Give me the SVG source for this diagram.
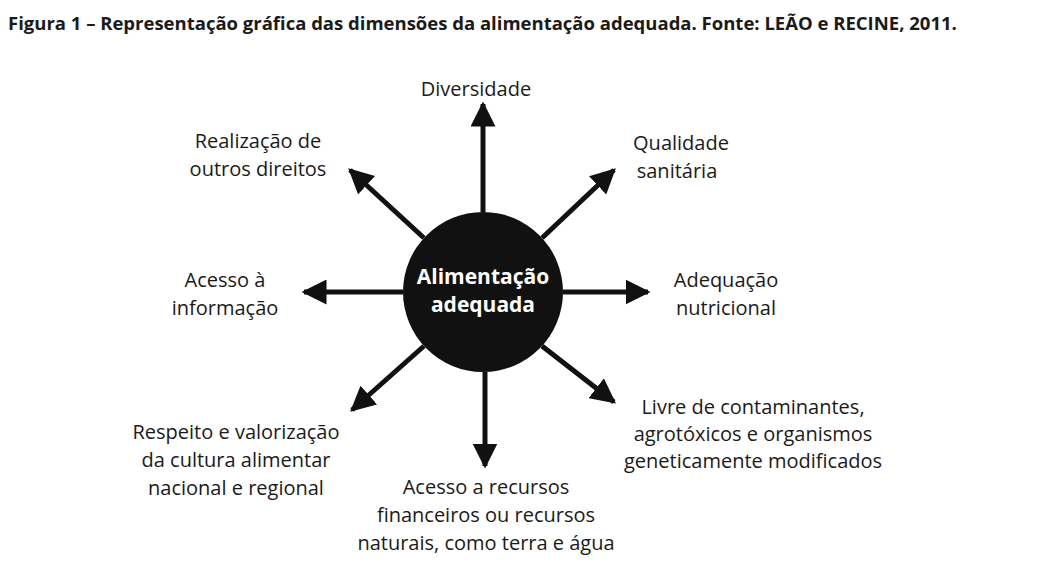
<svg xmlns="http://www.w3.org/2000/svg" width="1041" height="563" viewBox="0 0 1041 563">
<defs>
<marker id="ah" viewBox="0 0 10 10" refX="9" refY="5" markerWidth="5" markerHeight="5" orient="auto" markerUnits="strokeWidth">
<path d="M0,0 L10,5 L0,10 Z" fill="#111"/>
</marker>
<style>
.t{font-family:"Open Sans","Liberation Sans",sans-serif;font-size:20px;fill:#1a1a1a;text-anchor:middle}
.c line{stroke:#111;stroke-width:5;marker-end:url(#ah)}
</style>
</defs>
<rect width="1041" height="563" fill="#fff"/>
<text x="8" y="30" style="font-family:'Open Sans','Liberation Sans',sans-serif;font-size:18.5px;font-weight:bold;fill:#1a1a1a">Figura 1 – Representação gráfica das dimensões da alimentação adequada. Fonte: LEÃO e RECINE, 2011.</text>
<g class="c" id="connectors">
<line x1="483" y1="212" x2="483" y2="104"/>
<line x1="563" y1="292" x2="648" y2="292"/>
<line x1="403" y1="292" x2="304" y2="292"/>
<line x1="485" y1="372" x2="485" y2="466"/>
<line x1="542" y1="238" x2="614" y2="170"/>
<line x1="424" y1="238" x2="350" y2="170"/>
<line x1="542" y1="346" x2="614" y2="402"/>
<line x1="424" y1="346" x2="352" y2="410"/>
</g>
<g id="center">
<circle cx="483" cy="292" r="80" fill="#111"/>
<text class="t" x="483" y="284" style="fill:#fff;font-weight:bold;font-size:21px">Alimentação</text>
<text class="t" x="483" y="312" style="fill:#fff;font-weight:bold;font-size:21px">adequada</text>
</g>
<g id="n1"><text class="t" x="476" y="96">Diversidade</text></g>
<g id="n2"><text class="t" x="681" y="150">Qualidade</text><text class="t" x="677" y="178">sanitária</text></g>
<g id="n3"><text class="t" x="726" y="287">Adequação</text><text class="t" x="726" y="315">nutricional</text></g>
<g id="n4"><text class="t" x="753" y="414">Livre de contaminantes,</text><text class="t" x="753" y="441">agrotóxicos e organismos</text><text class="t" x="753" y="468">geneticamente modificados</text></g>
<g id="n5"><text class="t" x="486" y="494">Acesso a recursos</text><text class="t" x="486" y="522">financeiros ou recursos</text><text class="t" x="486" y="550">naturais, como terra e água</text></g>
<g id="n6"><text class="t" x="236" y="439">Respeito e valorização</text><text class="t" x="236" y="467">da cultura alimentar</text><text class="t" x="236" y="495">nacional e regional</text></g>
<g id="n7"><text class="t" x="225" y="287">Acesso à</text><text class="t" x="225" y="315">informação</text></g>
<g id="n8"><text class="t" x="258" y="148">Realização de</text><text class="t" x="258" y="176">outros direitos</text></g>
</svg>
